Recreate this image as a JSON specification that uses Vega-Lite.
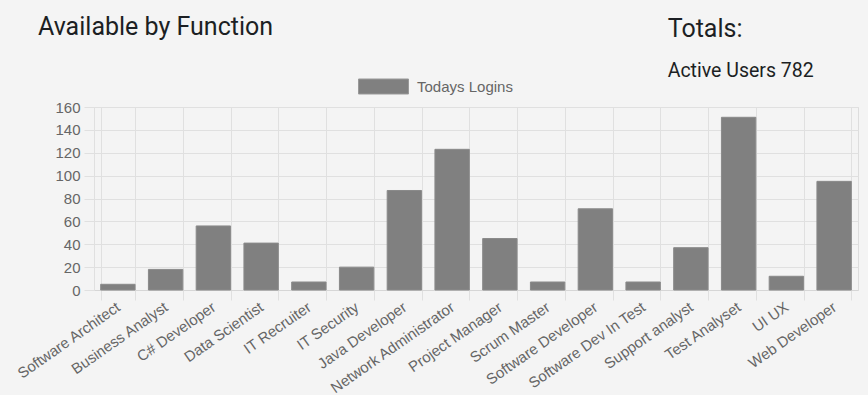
{
  "$schema": "https://vega.github.io/schema/vega-lite/v6.json",
  "autosize": "none",
  "width": 764,
  "height": 183,
  "padding": {"left": 94, "top": 107, "right": 10, "bottom": 105},
  "background": "#f4f4f4",
  "title": {
    "text": "Available by Function",
    "anchor": "start",
    "frame": "group",
    "font": "Roboto",
    "fontSize": 25,
    "fontWeight": 400,
    "color": "#1c1f23",
    "baseline": "alphabetic",
    "dx": -56,
    "dy": 43,
    "offset": 0
  },
  "data": {
    "values": [
      {"function": "Software Architect", "logins": 5, "series": "Todays Logins"},
      {"function": "Business Analyst", "logins": 18, "series": "Todays Logins"},
      {"function": "C# Developer", "logins": 56, "series": "Todays Logins"},
      {"function": "Data Scientist", "logins": 41, "series": "Todays Logins"},
      {"function": "IT Recruiter", "logins": 7, "series": "Todays Logins"},
      {"function": "IT Security", "logins": 20, "series": "Todays Logins"},
      {"function": "Java Developer", "logins": 87, "series": "Todays Logins"},
      {"function": "Network Administrator", "logins": 123, "series": "Todays Logins"},
      {"function": "Project Manager", "logins": 45, "series": "Todays Logins"},
      {"function": "Scrum Master", "logins": 7, "series": "Todays Logins"},
      {"function": "Software Developer", "logins": 71, "series": "Todays Logins"},
      {"function": "Software Dev In Test", "logins": 7, "series": "Todays Logins"},
      {"function": "Support analyst", "logins": 37, "series": "Todays Logins"},
      {"function": "Test Analyset", "logins": 151, "series": "Todays Logins"},
      {"function": "UI UX", "logins": 12, "series": "Todays Logins"},
      {"function": "Web Developer", "logins": 95, "series": "Todays Logins"}
    ]
  },
  "encoding": {
    "x": {
      "field": "function",
      "type": "nominal",
      "sort": null,
      "scale": {"paddingInner": 0.28, "paddingOuter": 0.14},
      "axis": {
        "title": null,
        "tickBand": "extent",
        "grid": true,
        "gridColor": "#e0e0e0",
        "domainColor": "#d6d6d6",
        "tickColor": "#e0e0e0",
        "tickSize": 10,
        "labelAngle": -35,
        "labelAlign": "right",
        "labelBaseline": "middle",
        "labelPadding": 5,
        "labelOverlap": false,
        "labelLimit": 0,
        "labelFont": "Liberation Sans",
        "labelFontSize": 15,
        "labelColor": "#666666"
      }
    },
    "y": {
      "type": "quantitative",
      "scale": {"domain": [0, 160], "nice": false, "zero": true},
      "axis": {
        "title": null,
        "values": [0, 20, 40, 60, 80, 100, 120, 140, 160],
        "grid": true,
        "gridColor": "#e0e0e0",
        "domainColor": "#e0e0e0",
        "tickColor": "#e0e0e0",
        "tickSize": 10,
        "labelPadding": 4,
        "labelFont": "Liberation Sans",
        "labelFontSize": 15,
        "labelColor": "#666666"
      }
    }
  },
  "layer": [
    {
      "mark": {"type": "bar", "stroke": "#8a8a8a", "strokeWidth": 1},
      "encoding": {
        "y": {"field": "logins", "type": "quantitative"},
        "color": {
          "field": "series",
          "type": "nominal",
          "scale": {"range": ["#808080"]},
          "legend": {
            "title": null,
            "orient": "none",
            "legendX": 264,
            "legendY": -46,
            "padding": 0,
            "symbolType": "M-1,-0.3H1V0.3H-1Z",
            "symbolSize": 2500,
            "symbolStrokeColor": "#999999",
            "symbolStrokeWidth": 1,
            "symbolOpacity": 1,
            "labelFont": "Liberation Sans",
            "labelFontSize": 15,
            "labelColor": "#666666",
            "labelOffset": 8
          }
        }
      }
    },
    {
      "data": {"values": [{"label": "Totals:"}]},
      "mark": {"type": "text", "align": "left", "baseline": "alphabetic", "font": "Roboto", "fontSize": 25, "fontWeight": 400, "fill": "#1c1f23", "dx": -6},
      "encoding": {
        "x": {"datum": "Support analyst", "type": "nominal", "bandPosition": 0},
        "y": {"datum": 221},
        "text": {"field": "label"}
      }
    },
    {
      "data": {"values": [{"label": "Active Users 782"}]},
      "mark": {"type": "text", "align": "left", "baseline": "alphabetic", "font": "Roboto", "fontSize": 19.5, "fontWeight": 400, "fill": "#1c1f23", "dx": -6},
      "encoding": {
        "x": {"datum": "Support analyst", "type": "nominal", "bandPosition": 0},
        "y": {"datum": 186},
        "text": {"field": "label"}
      }
    }
  ]
}
